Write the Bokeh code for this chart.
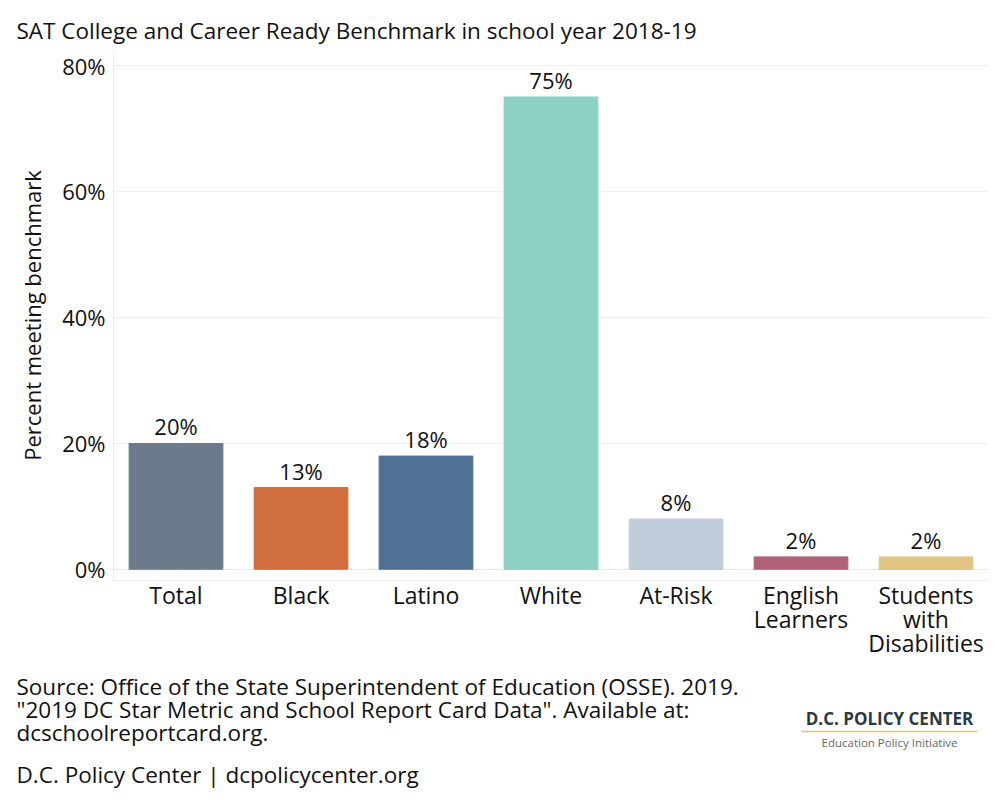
from bokeh.plotting import figure
from bokeh.layouts import column
from bokeh.models import (ColumnDataSource, Range1d, FactorRange, FixedTicker, PrintfTickFormatter,
                          Span, Label, LabelSet, CategoricalAxis)
from bokeh.core.properties import value
from bokeh.embed import file_html
from bokeh.resources import INLINE

# Student groups and share meeting the SAT benchmark (%)
groups = ["Total", "Black", "Latino", "White", "At-Risk", "English Learners", "Students with Disabilities"]
label_line1 = ["Total", "Black", "Latino", "White", "At-Risk", "English", "Students"]
label_line2 = ["", "", "", "", "", "Learners", "with"]
label_line3 = ["", "", "", "", "", "", "Disabilities"]
pct = [20, 13, 18, 75, 8, 2, 2]
colors = ["#6c7b8b", "#d06f3d", "#4f7194", "#8dd0c4", "#bfccd9", "#b06278", "#e2c585"]
y_ticks = [0, 20, 40, 60, 80]

FONT = "Open Sans"
TXT = "#111111"
W = 1000
FRAME_L, FRAME_R = 113, 988


def blank_panel(h):
    """A text-only strip whose frame fills the canvas; data units equal pixels."""
    f = figure(width=W, height=h, x_range=(0, W), y_range=(h, 0),
               output_backend="svg", toolbar_location=None, min_border=0,
               outline_line_color=None, frame_align=False)
    f.axis.visible = False
    f.grid.visible = False
    return f


def put(f, x, y, text, size="22px", color=TXT, style="normal", align="left"):
    f.add_layout(Label(x=x, y=y, text=text, text_font=FONT, text_font_size=size,
                       text_color=color, text_font_style=style, text_align=align,
                       text_baseline="middle"))


# Header with the chart title
header = blank_panel(50)
put(header, 16, 30, "SAT College and Career Ready Benchmark in school year 2018-19", size="22.5px")

# Main bar chart
src = ColumnDataSource(dict(g=groups, v=pct, c=colors, t=[f"{v}%" for v in pct]))
p = figure(x_range=groups, width=W, height=620, output_backend="svg", toolbar_location=None,
           x_axis_location=None, frame_align=False,
           min_border_left=FRAME_L, min_border_right=W - FRAME_R, min_border_top=0,
           min_border_bottom=90)
p.y_range = Range1d(-1.75, 82.38)
p.outline_line_color = None

p.vbar(x="g", top="v", width=0.75, color="c", source=src)

p.add_layout(LabelSet(x="g", y="v", text="t", source=src, text_align="center",
                      text_baseline="alphabetic", y_offset=8, text_font=value(FONT),
                      text_font_size="22px", text_color=TXT))

# Dotted zero line
p.add_layout(Span(location=0, dimension="width", line_color="#bbbbbb", line_dash="1 2", line_width=1))

# Y axis
p.yaxis.ticker = FixedTicker(ticks=y_ticks)
p.yaxis.formatter = PrintfTickFormatter(format="%d%%")
p.yaxis.axis_label = "Percent meeting benchmark"
p.yaxis.axis_label_text_font = FONT
p.yaxis.axis_label_text_font_size = "22px"
p.yaxis.axis_label_text_font_style = "normal"
p.yaxis.axis_label_text_color = TXT
p.yaxis.axis_label_standoff = 12
p.yaxis.major_label_text_font = FONT
p.yaxis.major_label_text_font_size = "22px"
p.yaxis.major_label_text_color = TXT
p.yaxis.axis_line_color = "#eeeeee"
p.yaxis.major_tick_line_color = None
p.yaxis.minor_tick_line_color = None
p.yaxis.major_tick_out = 0
p.yaxis.major_label_standoff = 8

p.xgrid.grid_line_color = None
p.ygrid.grid_line_color = "#eeeeee"
p.ygrid.ticker = FixedTicker(ticks=[20, 40, 60, 80])


def unique_factors(lines):
    # blank entries become distinct runs of spaces so each line can be its own range
    return [t if t else " " * (i + 1) for i, t in enumerate(lines)]


# Category labels, one categorical axis per text line
for n, (lines, standoff, line_color) in enumerate(
        [(label_line1, -2, "#eeeeee"), (label_line2, -11, None), (label_line3, -11, None)]):
    name = f"line{n + 1}"
    p.extra_x_ranges[name] = FactorRange(factors=unique_factors(lines))
    ax = CategoricalAxis(x_range_name=name, axis_line_color=line_color,
                         major_label_text_font=FONT, major_label_text_font_size="23px",
                         major_label_text_color=TXT, major_tick_line_color=None,
                         minor_tick_line_color=None, major_tick_out=0, major_tick_in=0,
                         major_label_standoff=standoff)
    p.add_layout(ax, "below")

# Footer with source note and logo
footer = blank_panel(130)
put(footer, 16, 16, "Source: Office of the State Superintendent of Education (OSSE). 2019.", size="22.5px")
put(footer, 16, 39, "\"2019 DC Star Metric and School Report Card Data\". Available at:", size="22.5px")
put(footer, 16, 62, "dcschoolreportcard.org.", size="22.5px")
put(footer, 16, 104, "D.C. Policy Center | dcpolicycenter.org", size="22.5px")

put(footer, 889, 48, "D.C. POLICY CENTER", size="17px", color="#2b3a42", style="bold", align="center")
footer.segment(x0=[801], y0=[61], x1=[977], y1=[61], line_color="#e8c46a", line_width=1.5)
put(footer, 889, 72, "Education Policy Initiative", size="11.5px", color="#666666", align="center")

open("out.html", "w").write(file_html(column(header, p, footer, spacing=0), INLINE))
